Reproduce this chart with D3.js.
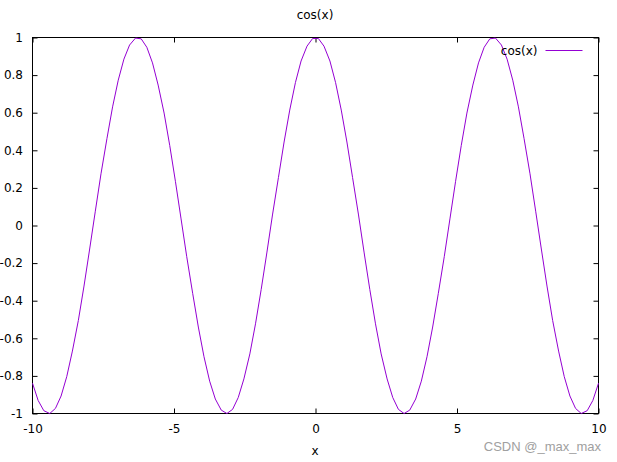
<!DOCTYPE html>
<html>
<head>
<meta charset="utf-8">
<script src="https://cdn.jsdelivr.net/npm/d3@7"></script>
<style>
  body { margin: 0; background: #fff; }
  svg { display: block; }
  text { font-family: "DejaVu Sans", sans-serif; font-size: 12px; fill: #000; }
</style>
</head>
<body>
<div id="chart"></div>
<script>
// gnuplot samples: 100 points on [-10, 10]
const xs = [
  -10.00, -9.80, -9.60, -9.39, -9.19, -8.99, -8.79, -8.59, -8.38, -8.18,
  -7.98, -7.78, -7.58, -7.37, -7.17, -6.97, -6.77, -6.57, -6.36, -6.16,
  -5.96, -5.76, -5.56, -5.35, -5.15, -4.95, -4.75, -4.55, -4.34, -4.14,
  -3.94, -3.74, -3.54, -3.33, -3.13, -2.93, -2.73, -2.53, -2.32, -2.12,
  -1.92, -1.72, -1.52, -1.31, -1.11, -0.91, -0.71, -0.51, -0.30, -0.10,
  0.10, 0.30, 0.51, 0.71, 0.91, 1.11, 1.31, 1.52, 1.72, 1.92,
  2.12, 2.32, 2.53, 2.73, 2.93, 3.13, 3.33, 3.54, 3.74, 3.94,
  4.14, 4.34, 4.55, 4.75, 4.95, 5.15, 5.35, 5.56, 5.76, 5.96,
  6.16, 6.36, 6.57, 6.77, 6.97, 7.17, 7.37, 7.58, 7.78, 7.98,
  8.18, 8.38, 8.59, 8.79, 8.99, 9.19, 9.39, 9.60, 9.80, 10.00
];
const ys = [
  -0.839, -0.931, -0.985, -1.000, -0.973, -0.907, -0.804, -0.668, -0.505, -0.322,
  -0.125, 0.076, 0.275, 0.462, 0.631, 0.773, 0.885, 0.960, 0.997, 0.993,
  0.948, 0.865, 0.747, 0.598, 0.425, 0.235, 0.035, -0.166, -0.361, -0.540,
  -0.698, -0.828, -0.923, -0.982, -1.000, -0.978, -0.915, -0.816, -0.683, -0.523,
  -0.341, -0.146, 0.056, 0.255, 0.444, 0.614, 0.760, 0.875, 0.954, 0.995,
  0.995, 0.954, 0.875, 0.760, 0.614, 0.444, 0.255, 0.056, -0.146, -0.341,
  -0.523, -0.683, -0.816, -0.915, -0.978, -1.000, -0.982, -0.923, -0.828, -0.698,
  -0.540, -0.361, -0.166, 0.035, 0.235, 0.425, 0.598, 0.747, 0.865, 0.948,
  0.993, 0.997, 0.960, 0.885, 0.773, 0.631, 0.462, 0.275, 0.076, -0.125,
  -0.322, -0.505, -0.668, -0.804, -0.907, -0.973, -1.000, -0.985, -0.931, -0.839
];
const xTicks = [-10, -5, 0, 5, 10];
const yTicks = [-1, -0.8, -0.6, -0.4, -0.2, 0, 0.2, 0.4, 0.6, 0.8, 1];
const seriesName = 'cos(x)';

const W = 617, H = 462;
const margin = { top: 37, right: 19, bottom: 49, left: 32 };
const width = W - margin.left - margin.right;
const height = H - margin.top - margin.bottom;

const svg = d3.select('#chart').append('svg')
  .attr('width', W)
  .attr('height', H);

const g = svg.append('g')
  .attr('transform', `translate(${margin.left + 0.5},${margin.top + 0.5})`);

const x = d3.scaleLinear().domain([-10, 10]).range([0, width]);
const y = d3.scaleLinear().domain([-1, 1]).range([height, 0]);

// gnuplot style labels use a plain hyphen for minus
const plain = d => String(+d.toFixed(1));

// ticks point inward, mirrored on top/right
const tickLen = 5;
g.append('g')
  .attr('transform', `translate(0,${height})`)
  .call(d3.axisBottom(x).tickValues(xTicks).tickSizeInner(-tickLen).tickSizeOuter(0).tickPadding(11).tickFormat(plain))
  .call(a => a.select('.domain').remove());
g.append('g')
  .call(d3.axisTop(x).tickValues(xTicks).tickSizeInner(-tickLen).tickSizeOuter(0).tickFormat(''))
  .call(a => a.select('.domain').remove());
g.append('g')
  .call(d3.axisLeft(y).tickValues(yTicks).tickSizeInner(-tickLen).tickSizeOuter(0).tickPadding(9.5).tickFormat(plain))
  .call(a => a.select('.domain').remove());
g.append('g')
  .attr('transform', `translate(${width},0)`)
  .call(d3.axisRight(y).tickValues(yTicks).tickSizeInner(-tickLen).tickSizeOuter(0).tickFormat(''))
  .call(a => a.select('.domain').remove());

g.selectAll('.tick line').attr('stroke', '#000');
g.selectAll('.tick text')
  .style('font-family', '"DejaVu Sans", sans-serif')
  .style('font-size', '12px')
  .attr('fill', '#000');

g.append('rect')
  .attr('width', width)
  .attr('height', height)
  .attr('fill', 'none')
  .attr('stroke', '#000')
  .attr('stroke-width', 1);

const pts = xs.map((v, i) => [v, ys[i]]);
g.append('path')
  .datum(pts)
  .attr('fill', 'none')
  .attr('stroke', '#9400d3')
  .attr('stroke-width', 1)
  .attr('d', d3.line().x(d => x(d[0])).y(d => y(d[1])));

// legend
g.append('text')
  .attr('x', 505)
  .attr('y', 17)
  .attr('text-anchor', 'end')
  .text(seriesName);
g.append('line')
  .attr('x1', 513).attr('x2', 550)
  .attr('y1', 13).attr('y2', 13)
  .attr('stroke', '#9400d3')
  .attr('stroke-width', 1);

// title and axis label
svg.append('text')
  .attr('x', margin.left + width / 2)
  .attr('y', 19)
  .attr('text-anchor', 'middle')
  .text('cos(x)');
svg.append('text')
  .attr('x', margin.left + width / 2)
  .attr('y', 455)
  .attr('text-anchor', 'middle')
  .text('x');

// watermark
svg.append('text')
  .attr('x', 601)
  .attr('y', 451)
  .attr('text-anchor', 'end')
  .style('font-family', '"Liberation Sans", Arial, sans-serif')
  .style('font-size', '13px')
  .style('fill', '#a0a0a0')
  .text('CSDN @_max_max');
</script>
</body>
</html>
